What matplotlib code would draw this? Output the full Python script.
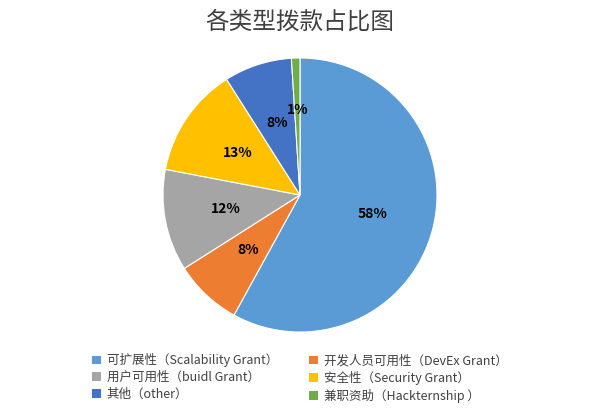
import matplotlib
matplotlib.use("Agg")
import matplotlib.pyplot as plt
from matplotlib.patches import Patch
import numpy as np

plt.rcParams['font.family'] = ['Noto Sans CJK SC', 'DejaVu Sans']

labels = ["可扩展性（Scalability Grant）", "开发人员可用性（DevEx Grant）", "用户可用性（buidl Grant）",
          "安全性（Security Grant）", "其他（other）", "兼职资助（Hackternship ）"]
values = [58, 8, 12, 13, 8, 1]
colors = ["#5B9BD5", "#ED7D31", "#A5A5A5", "#FFC000", "#4472C4", "#70AD47"]

fig = plt.figure(figsize=(6, 4.19), dpi=100)
ax = fig.add_axes([0.5 - 137/600, 1 - (195+137)/419, 274/600, 274/419])
wedges, texts = ax.pie(values, colors=colors, startangle=90, counterclock=False,
                       wedgeprops=dict(edgecolor="white", linewidth=0.8))
for w, v in zip(wedges, values):
    ang = np.deg2rad((w.theta1 + w.theta2) / 2)
    r = 0.55 if v > 2 else 0.62
    ax.text(r*np.cos(ang), r*np.sin(ang), f"{v}%", ha="center", va="center",
            fontsize=10, fontweight="bold", color="black")
ax.set_xlim(-1, 1)
ax.set_ylim(-1, 1)
ax.set_aspect("equal")

fig.text(0.5, 1 - 22/419, "各类型拨款占比图", ha="center", va="center", fontsize=17, color="#404040")

order = [0, 2, 4, 1, 3, 5]
handles = [Patch(facecolor=colors[i]) for i in order]
fig.legend(handles, [labels[i] for i in order], ncol=2, loc="center", bbox_to_anchor=(0.5, 1 - 378/419),
           frameon=False, fontsize=9, handlelength=0.7, handleheight=0.7,
           columnspacing=2.5, labelspacing=0.3, handletextpad=0.5, labelcolor="#404040")
fig.savefig("out.png", dpi=100)
